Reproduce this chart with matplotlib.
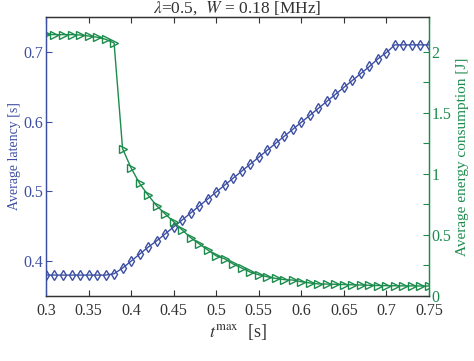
import matplotlib
matplotlib.use("Agg")
import matplotlib.pyplot as plt
from matplotlib.ticker import FixedLocator

plt.rcParams['font.family'] = ['Liberation Serif', 'DejaVu Serif']
plt.rcParams['mathtext.fontset'] = 'stix'

t_max = [0.30, 0.31, 0.32, 0.33, 0.34, 0.35, 0.36, 0.37, 0.38, 0.39,
         0.40, 0.41, 0.42, 0.43, 0.44, 0.45, 0.46, 0.47, 0.48, 0.49,
         0.50, 0.51, 0.52, 0.53, 0.54, 0.55, 0.56, 0.57, 0.58, 0.59,
         0.60, 0.61, 0.62, 0.63, 0.64, 0.65, 0.66, 0.67, 0.68, 0.69,
         0.70, 0.71, 0.72, 0.73, 0.74, 0.75]

latency = [0.380, 0.380, 0.380, 0.380, 0.380, 0.380, 0.380, 0.380, 0.382, 0.390,
           0.400, 0.410, 0.420, 0.429, 0.439, 0.449, 0.459, 0.469, 0.479, 0.489,
           0.499, 0.509, 0.519, 0.529, 0.539, 0.549, 0.559, 0.569, 0.579, 0.589,
           0.599, 0.609, 0.619, 0.629, 0.639, 0.649, 0.659, 0.669, 0.679, 0.690,
           0.699, 0.710, 0.710, 0.710, 0.710, 0.710]

energy = [2.144, 2.141, 2.141, 2.141, 2.138, 2.130, 2.120, 2.103, 2.073, 1.207,
          1.049, 0.922, 0.826, 0.740, 0.672, 0.609, 0.541, 0.478, 0.427, 0.378,
          0.329, 0.305, 0.262, 0.229, 0.196, 0.174, 0.158, 0.144, 0.134, 0.131,
          0.117, 0.107, 0.099, 0.098, 0.096, 0.094, 0.092, 0.090, 0.088, 0.086,
          0.085, 0.084, 0.083, 0.083, 0.082, 0.082]

x_ticks = [0.3, 0.35, 0.4, 0.45, 0.5, 0.55, 0.6, 0.65, 0.7, 0.75]
x_tick_labels = ['0.3', '0.35', '0.4', '0.45', '0.5', '0.55', '0.6', '0.65', '0.7', '0.75']
left_ticks = [0.4, 0.5, 0.6, 0.7]
left_tick_labels = ['0.4', '0.5', '0.6', '0.7']
right_ticks = [0, 0.5, 1, 1.5, 2]
right_tick_labels = ['0', '0.5', '1', '1.5', '2']
right_minor_ticks = [0.25, 0.75, 1.25, 1.75]

BLUE = '#3d4fa3'
GREEN = '#1b8c4c'
GRAY = '#333333'

fig = plt.figure(figsize=(4.74, 3.61), dpi=100)
ax = fig.add_axes([0.097, 0.180, 0.808, 0.773])
ax2 = ax.twinx()

ax.plot(t_max, latency, color=BLUE, lw=1.0, marker='d', markersize=5,
        markerfacecolor='none', markeredgecolor=BLUE, markeredgewidth=1.0)
ax2.plot(t_max, energy, color=GREEN, lw=1.0, marker='>', markersize=5.5,
         markerfacecolor='none', markeredgecolor=GREEN, markeredgewidth=1.0)

ax.set_xlim(0.3, 0.75)
ax.set_ylim(0.35, 0.75)
ax2.set_ylim(0, 16 / 7)

ax.set_xticks(x_ticks)
ax.set_xticklabels(x_tick_labels)
ax.set_yticks(left_ticks)
ax.set_yticklabels(left_tick_labels)
ax2.set_yticks(right_ticks)
ax2.set_yticklabels(right_tick_labels)
ax2.yaxis.set_minor_locator(FixedLocator(right_minor_ticks))

ax.tick_params(axis='x', direction='in', length=4, width=0.8, colors=GRAY,
               labelsize=11.5, top=True, pad=5)
ax.tick_params(axis='y', direction='in', length=4, width=0.8, colors=BLUE,
               labelsize=11.5, pad=2)
ax2.tick_params(axis='y', direction='in', length=4, width=0.8, colors=GREEN,
                labelsize=11.5, pad=2)
ax2.tick_params(axis='y', which='minor', direction='in', length=4, width=0.8,
                colors=GREEN)

for a in (ax, ax2):
    a.spines['top'].set_color(GRAY)
    a.spines['bottom'].set_color(GRAY)
    a.spines['left'].set_color(BLUE)
    a.spines['right'].set_color(GREEN)
    for s in a.spines.values():
        s.set_linewidth(0.9)

ax.set_ylabel('Average latency [s]', color=BLUE, fontsize=10, labelpad=2)
ax2.set_ylabel('Average energy consumption [J]', color=GREEN, fontsize=11, labelpad=3)
ax.set_xlabel(r'$t^{\mathrm{max}}$  [s]', color=GRAY, fontsize=13, labelpad=2)
ax.set_title(r'$\lambda$=0.5,  $W$ = 0.18 [MHz]', color=GRAY, fontsize=12.5, pad=0)

fig.savefig('out.png', dpi=100)
